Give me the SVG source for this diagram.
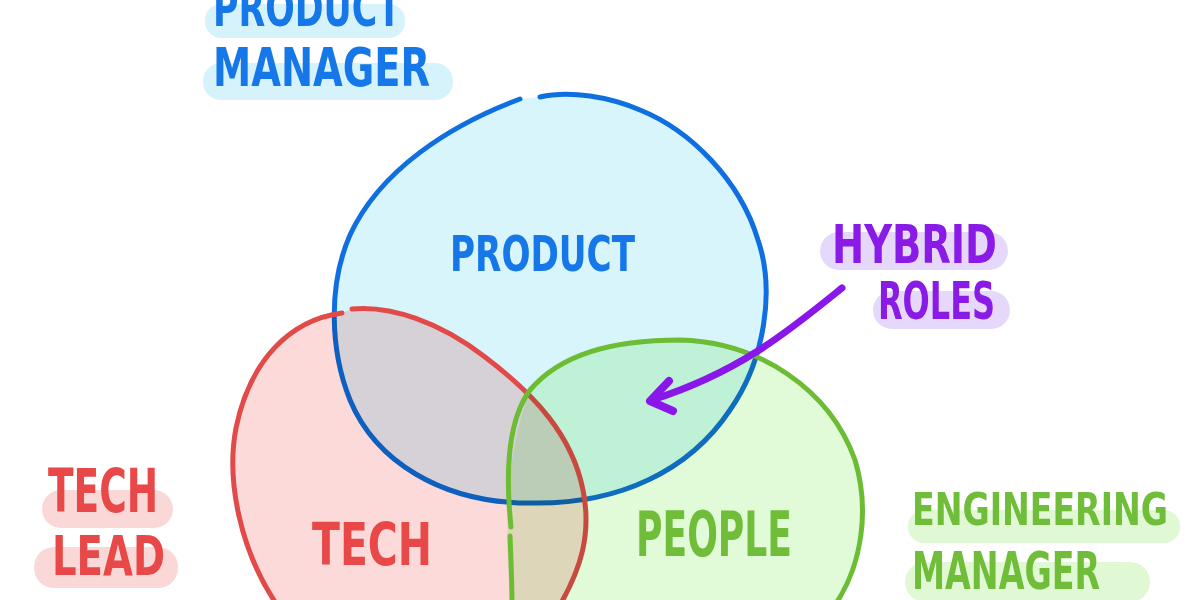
<svg xmlns="http://www.w3.org/2000/svg" width="1200" height="600" viewBox="0 0 1200 600">
<defs>
<style>
.fill{mix-blend-mode:multiply;stroke:none}
.edge{fill:none;stroke-width:5;stroke-linecap:round;stroke-linejoin:round}
.t{font-family:"DejaVu Sans Condensed","DejaVu Sans",sans-serif;font-weight:bold}
.hl{stroke:none}
</style>
</defs>
<rect width="1200" height="600" fill="#ffffff"/>
<g id="product">
<path class="fill" fill="#d8f5fc" d="M 520,99 C 450,125 380,170 350,235 C 328,285 330,350 350,400 C 375,460 440,503 530,503 C 620,505 690,470 730,410 C 765,360 775,290 758,240 C 740,180 690,130 640,110 C 610,97 570,90 540,97 Z"/>
<path class="edge" stroke="#0f6fe0" d="M 520,99 C 450,125 380,170 350,235 C 328,285 330,350 350,400 C 375,460 440,503 530,503 C 620,505 690,470 730,410 C 765,360 775,290 758,240 C 740,180 690,130 640,110 C 610,97 570,90 540,97"/>
<text class="t" x="450" y="271" font-size="50" fill="#1677e8" textLength="185" lengthAdjust="spacingAndGlyphs">PRODUCT</text>
</g>
<g id="tech">
<path class="fill" fill="#fcdada" d="M 277,605 C 240,550 226,480 236,428 C 250,360 290,320 342,313 L 352,309 C 390,305 440,322 485,357 C 535,395 572,435 583,490 C 592,535 580,570 560,605 Z"/>
<path class="edge" stroke="#e24a4a" d="M 277,605 C 240,550 226,480 236,428 C 250,360 290,320 342,313"/>
<path class="edge" stroke="#e24a4a" d="M 352,309 C 390,305 440,322 485,357 C 535,395 572,435 583,490 C 592,535 580,570 560,605"/>
<text class="t" x="312" y="565" font-size="58" fill="#e84848" textLength="120" lengthAdjust="spacingAndGlyphs">TECH</text>
</g>
<g id="people">
<path class="fill" fill="#e1fbd9" d="M 511,605 C 505,540 503,460 530,390 C 560,355 610,340 680,340 C 760,342 830,390 855,460 C 870,510 862,565 835,605 Z"/>
<path class="edge" stroke="#6cbc34" d="M 511,527 C 505,470 508,420 530,390 C 560,355 610,340 680,340 C 760,342 830,390 855,460 C 870,510 862,565 835,605"/>
<path class="edge" stroke="#6cbc34" d="M 510,536 C 511,560 512,585 512,605"/>
<text class="t" x="636" y="556" font-size="62" fill="#70bd3a" textLength="156" lengthAdjust="spacingAndGlyphs">PEOPLE</text>
</g>
<g id="product-manager">
<rect class="hl" x="205" y="4" width="200" height="34" rx="16" fill="#d6f3fb"/>
<rect class="hl" x="203" y="63" width="250" height="37" rx="18" fill="#d6f3fb"/>
<text class="t" x="213" y="26" font-size="52" fill="#1677e8" textLength="188" lengthAdjust="spacingAndGlyphs">PRODUCT</text>
<text class="t" x="213" y="86" font-size="54" fill="#1677e8" textLength="217" lengthAdjust="spacingAndGlyphs">MANAGER</text>
</g>
<g id="hybrid-roles">
<rect class="hl" x="820" y="232" width="188" height="38" rx="19" fill="#e6d8fb"/>
<rect class="hl" x="873" y="291" width="137" height="38" rx="19" fill="#e6d8fb"/>
<text class="t" x="832" y="263" font-size="54" fill="#8a1be6" textLength="165" lengthAdjust="spacingAndGlyphs">HYBRID</text>
<text class="t" x="878" y="319" font-size="52" fill="#8a1be6" textLength="117" lengthAdjust="spacingAndGlyphs">ROLES</text>
</g>
<g id="tech-lead">
<rect class="hl" x="42" y="490" width="131" height="38" rx="19" fill="#fbd8d8"/>
<rect class="hl" x="34" y="547" width="144" height="41" rx="20" fill="#fbd8d8"/>
<text class="t" x="48" y="512" font-size="60" fill="#e84848" textLength="110" lengthAdjust="spacingAndGlyphs">TECH</text>
<text class="t" x="52" y="575" font-size="56" fill="#e84848" textLength="113" lengthAdjust="spacingAndGlyphs">LEAD</text>
</g>
<g id="engineering-manager">
<rect class="hl" x="908" y="510" width="272" height="33" rx="16" fill="#e0f8d4"/>
<rect class="hl" x="905" y="562" width="245" height="40" rx="20" fill="#e0f8d4"/>
<text class="t" transform="translate(912,525) scale(1,1.3)" x="0" y="0" font-size="34" fill="#70bd3a" textLength="256" lengthAdjust="spacingAndGlyphs">ENGINEERING</text>
<text class="t" x="912" y="589" font-size="52" fill="#70bd3a" textLength="188" lengthAdjust="spacingAndGlyphs">MANAGER</text>
</g>
<g id="connectors">
<path d="M 842,288 C 790,330 740,372 652,400" fill="none" stroke="#8a17ea" stroke-width="7" stroke-linecap="round"/>
<path d="M 669,381 L 650,401 L 673,411" fill="none" stroke="#8a17ea" stroke-width="8" stroke-linecap="round" stroke-linejoin="round"/>
</g>
</svg>
